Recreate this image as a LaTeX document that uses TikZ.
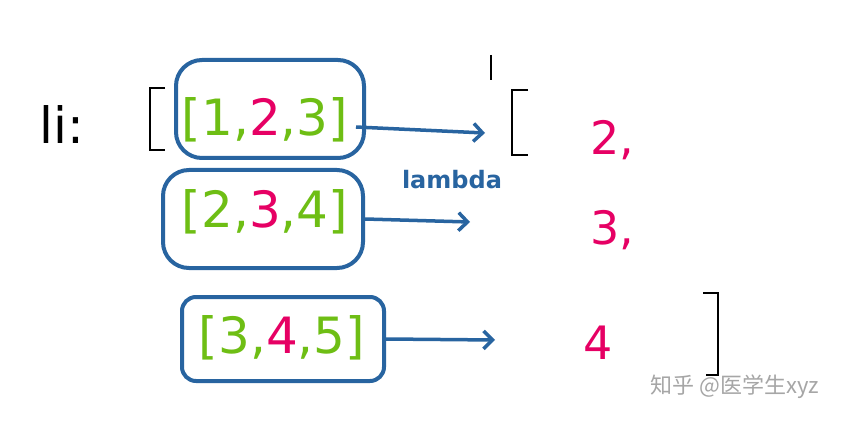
\documentclass[tikz,border=0pt]{standalone}
\usepackage{fontspec}
\setmainfont{DejaVu Sans}
\newfontfamily\cjk{Noto Sans CJK SC}
\usetikzlibrary{arrows.meta}
\definecolor{bl}{RGB}{40,100,160}
\definecolor{gr}{RGB}{110,190,20}
\definecolor{pk}{RGB}{230,0,100}
\tikzset{
 box/.style={draw=bl,line width=4pt,rounded corners=26pt},
 arr/.style={draw=bl,line width=3.5pt,-{Straight Barb[length=9pt,width=18pt]}},
 blk/.style={draw=black,line width=2pt},
 lst/.style={text=gr,font=\fontsize{50}{50}\selectfont,inner sep=0pt},
 num/.style={text=pk,font=\fontsize{46}{46}\selectfont,inner sep=0pt},
}
\begin{document}
\begin{tikzpicture}[x=1pt,y=-1pt]
\useasboundingbox[fill=white] (0,0) rectangle (847,425);
\node[font=\fontsize{50}{50}\selectfont] (li) at (62,125) {li:};
\draw[blk] (165,88) -- (150,88) -- (150,150) -- (165,150);
\node[box,minimum width=188pt,minimum height=98pt] (b1) at (270,109) {};
\node[box,minimum width=200pt,minimum height=98pt] (b2) at (263,219) {};
\node[box,minimum width=202pt,minimum height=84pt,rounded corners=14pt] (b3) at (283,339) {};
\node[lst] (l1) at (265,120) {[1,\textcolor{pk}{2},3]};
\node[lst] (l2) at (265,212) {[2,\textcolor{pk}{3},4]};
\node[lst] (l3) at (282,338) {[3,\textcolor{pk}{4},5]};
\coordinate (t1) at (485,133);
\coordinate (t2) at (470,222);
\coordinate (t3) at (495,340);
\draw[arr] (b1.east) ++(-10,18) -- (t1);
\draw[arr] (b2.east) -- (t2);
\draw[arr] (b3.east) -- (t3);
\node[text=bl,font=\bfseries\fontsize{24}{24}\selectfont] (lam) at (452,180) {lambda};
\draw[blk] (491,55) -- (491,80);
\draw[blk] (528,90) -- (512,90) -- (512,155) -- (528,155);
\draw[blk] (703,293) -- (718,293) -- (718,375) -- (706,375);
\node[num] (n1) at (612,140) {2,};
\node[num] (n2) at (612,230) {3,};
\node[num] (n3) at (598,343) {4};
\node[text=gray!70,font=\cjk\fontsize{22}{22}\selectfont] (wm) at (735,387) {知乎 @医学生xyz};
\end{tikzpicture}
\end{document}
